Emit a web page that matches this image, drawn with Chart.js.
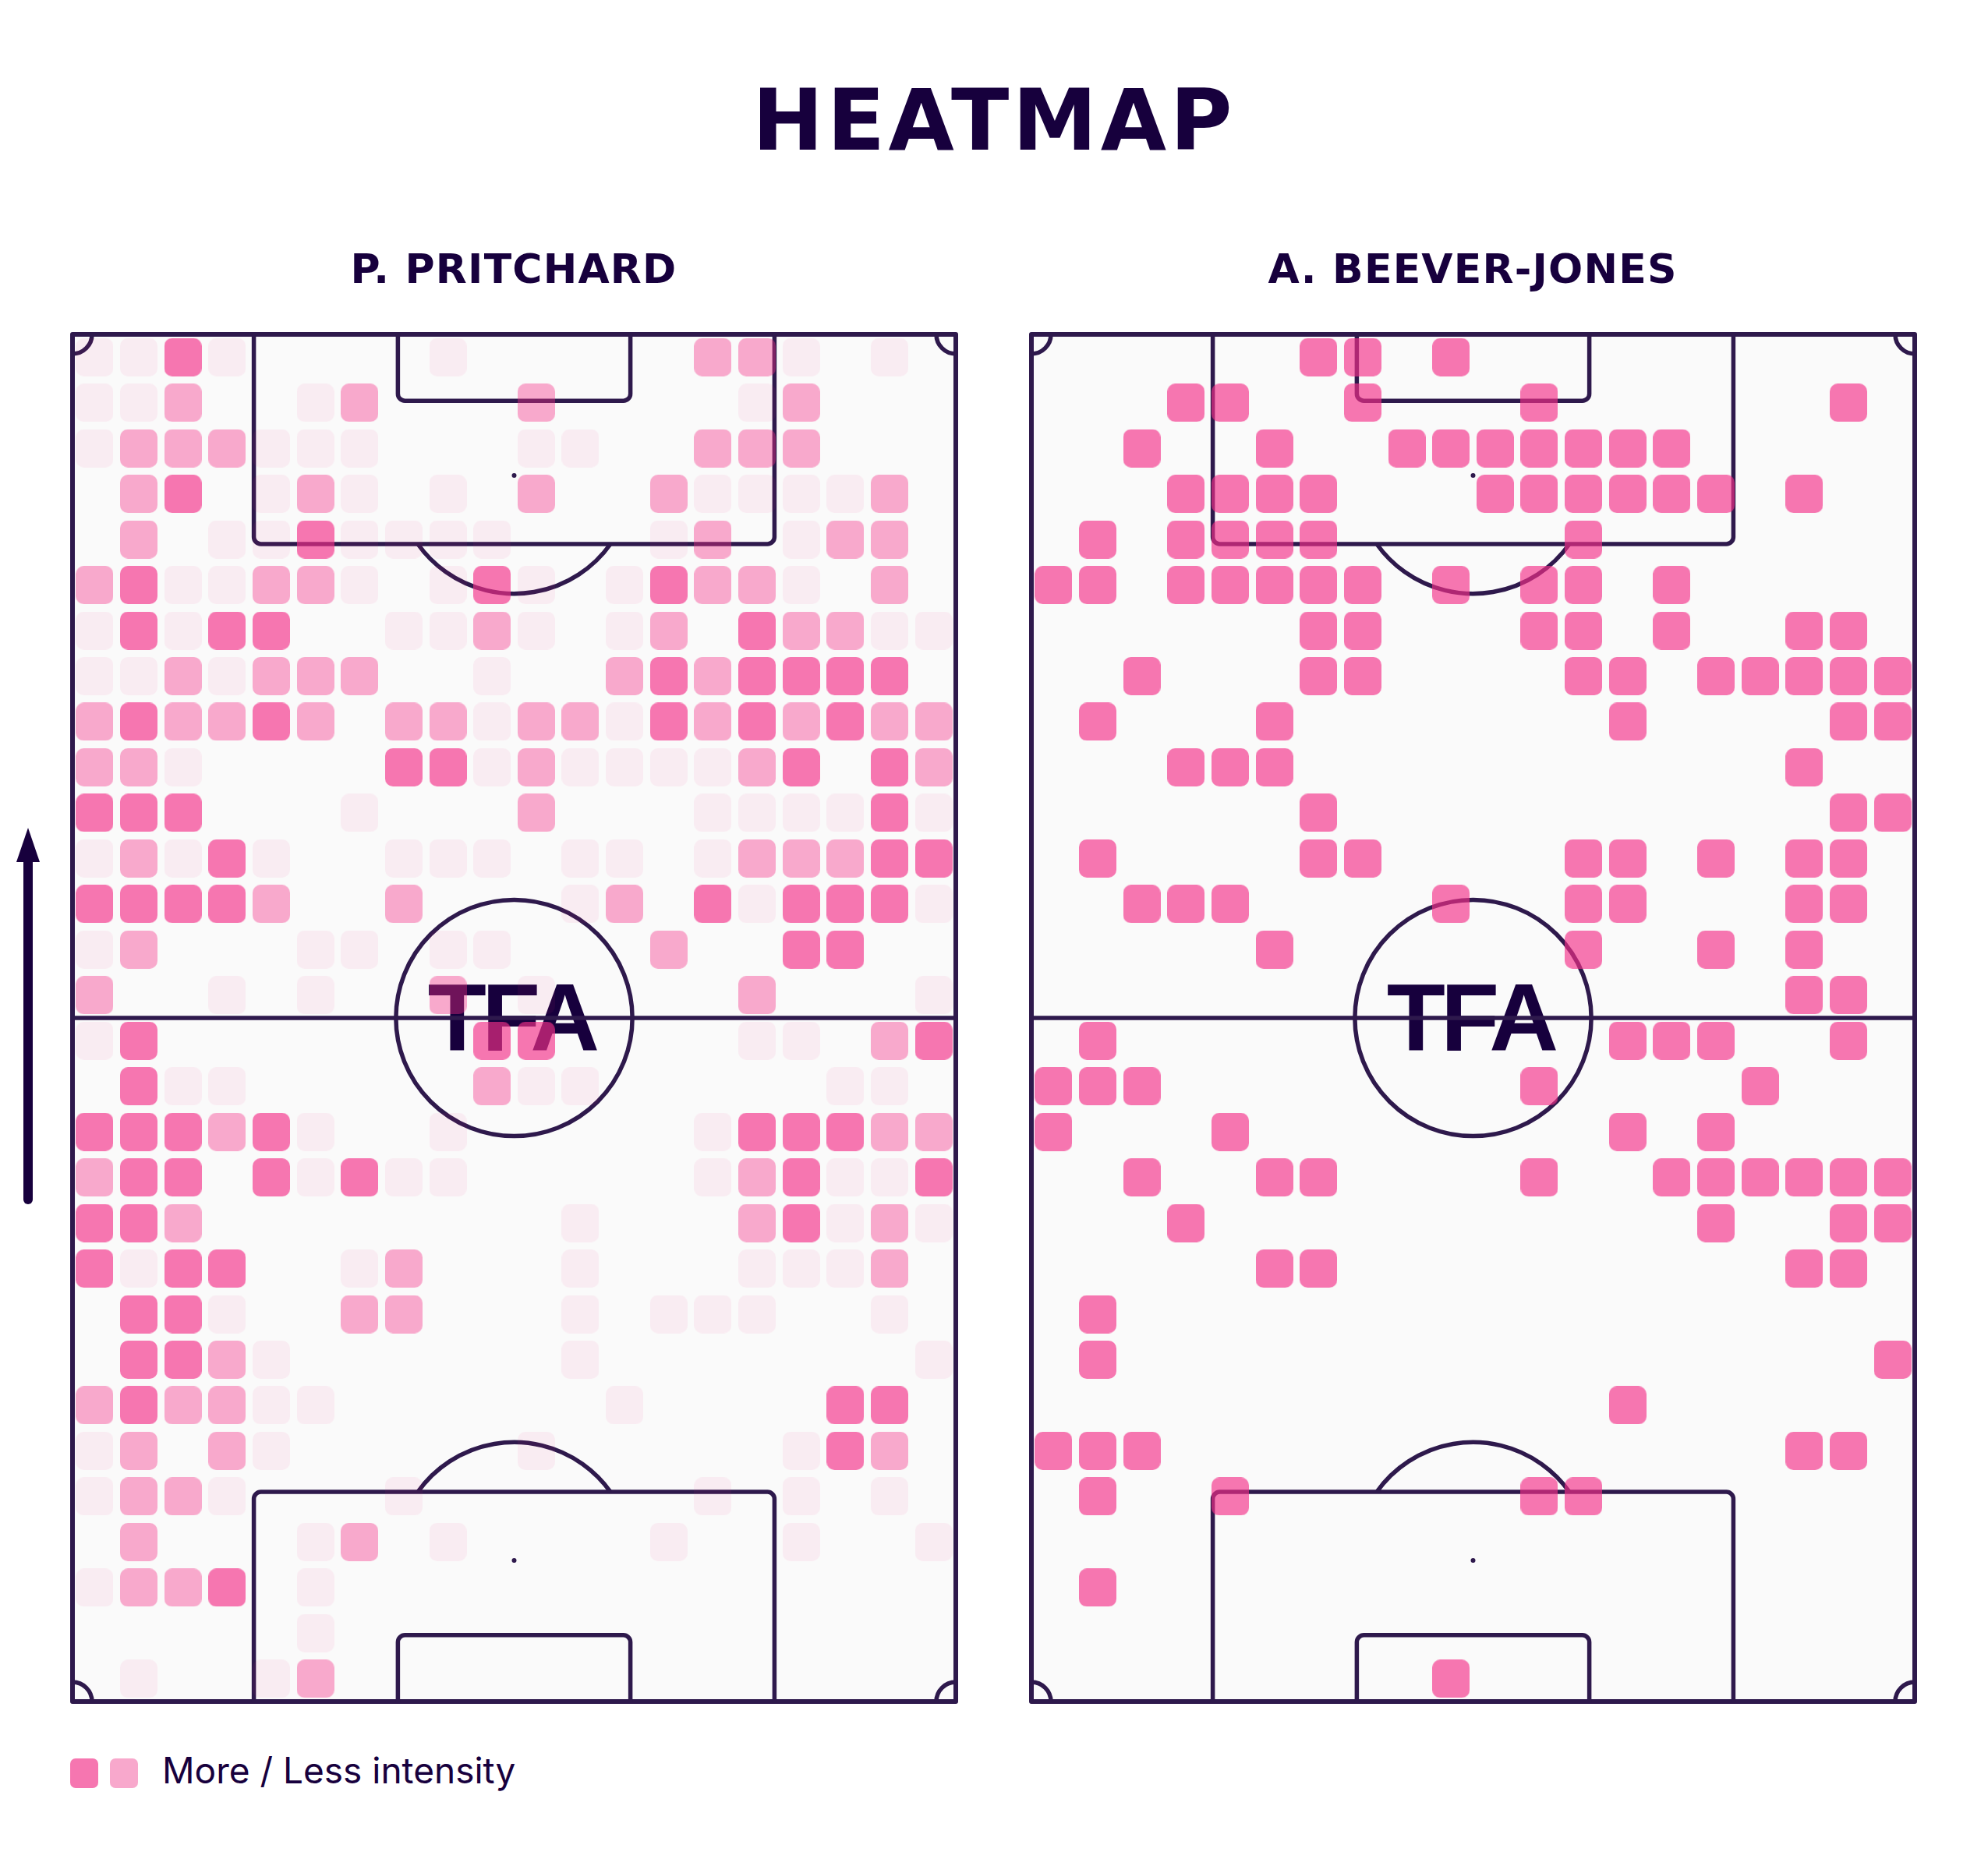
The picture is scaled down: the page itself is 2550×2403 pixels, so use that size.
<!DOCTYPE html>
<html>
<head>
<meta charset="utf-8">
<script src="https://cdn.jsdelivr.net/npm/chart.js@4.4.1/dist/chart.umd.min.js"></script>
<style>
html,body{margin:0;padding:0;background:#ffffff;}
body{width:2550px;height:2403px;position:relative;overflow:hidden;color:#17003d;}
.abs{position:absolute;}
#title{left:0;width:2550px;top:100px;font:bold 109px/109px 'DejaVu Sans',sans-serif;text-align:center;letter-spacing:4.5px;}
.sub{top:319px;width:800px;font:bold 52px/52px 'DejaVu Sans',sans-serif;text-align:center;letter-spacing:1.2px;}
.pitch{position:absolute;top:429px;width:1133px;height:1754px;background:#fafafa;}
.logo{position:absolute;width:400px;text-align:center;top:1244px;font:bold 123px/123px 'Liberation Sans',sans-serif;letter-spacing:-6px;color:#17003d;}
canvas.chart{position:absolute;top:419px;}
.key{position:absolute;top:2256px;width:36px;height:38px;border-radius:7px;}
#keytext{left:208px;top:2248px;font:46px/46px Inter,sans-serif;}
</style>
</head>
<body>
<div id="title" class="abs">HEATMAP</div>
<div class="abs sub" style="left:259px">P. PRITCHARD</div>
<div class="abs sub" style="left:1489px">A. BEEVER-JONES</div>

<div class="pitch" style="left:93px"></div>
<div class="pitch" style="left:1323px"></div>
<div class="logo" style="left:456px">TFA</div>
<div class="logo" style="left:1686px">TFA</div>

<canvas id="left" class="chart" width="1153" height="1774" style="left:83px;width:1153px;height:1774px"></canvas>
<canvas id="right" class="chart" width="1153" height="1774" style="left:1313px;width:1153px;height:1774px"></canvas>

<svg class="abs" style="left:0;top:0" width="80" height="1600">
  <line x1="36" y1="1100" x2="36" y2="1539" stroke="#17003d" stroke-width="12" stroke-linecap="round"/>
  <polygon points="36,1062 21,1106 51,1106" fill="#17003d"/>
</svg>

<div class="key" style="left:90px;background:#f676b0"></div>
<div class="key" style="left:141px;background:#f8a8cc"></div>
<div id="keytext" class="abs">More / Less intensity</div>

<script>
// ---------- DATA ----------
const COLS = 20;          // grid columns across the pitch
const ROWS = 30;          // grid rows along the pitch (attacking upwards)
const PITCH_W = 68;       // metres
const PITCH_L = 105;      // metres

// P. Pritchard: 0 = none, 1 = low, 2 = medium, 3 = high intensity
const pritchardGrid = [
  "11310000100000221010",
  "11200120002000012000",
  "12221110001100222000",
  "02301210102002111120",
  "02011311110001201220",
  "23112210131013221020",
  "13133001121012032211",
  "11212220010023233330",
  "23223202212213232322",
  "22100003312111123032",
  "33300010002000111131",
  "12131001110110122233",
  "33332002000120313331",
  "12000110110002003300",
  "20010100201000020001",
  "13000000033000011023",
  "03110000021100000110",
  "33323100100000133322",
  "23303131100000123113",
  "33200000000100023121",
  "31330012000100011120",
  "03310022000101110010",
  "03321000000100000001",
  "23221100000010000330",
  "12021000001000001320",
  "12210001000000101010",
  "02000120100001001001",
  "12230100000000000000",
  "00000100000000000000",
  "01001200000000000000"
];

// A. Beever-Jones: 3 = high intensity
const beeverJonesGrid = [
  "00000033030000000000",
  "00033003000300000030",
  "00300300333333300000",
  "00033330003333330300",
  "03033330000030000000",
  "33033333030330300000",
  "00000033000330300330",
  "00300033000033033333",
  "03000300000003000033",
  "00033300000000000300",
  "00000030000000000033",
  "03000033000033030330",
  "00333000030033000330",
  "00000300000030030300",
  "00000000000000000330",
  "03000000000003330030",
  "33300000000300003000",
  "30003000000003030000",
  "00300330000300333333",
  "00030000000000030033",
  "00000330000000000330",
  "03000000000000000000",
  "03000000000000000003",
  "00000000000003000000",
  "33300000000000000330",
  "03003000000330000000",
  "00000000000000000000",
  "03000000000000000000",
  "00000000000000000000",
  "00000000030000000000"
];

const levels = [1, 2, 3];
const levelNames = ["Low", "Medium", "High"];

// ---------- STYLE ----------
const LINE_COLOR = '#2e194c';
const CELL_RGB = '244,47,136';
const LEVEL_ALPHA = {1: 0.065, 2: 0.40, 3: 0.65};
const CELL_W = 48, CELL_H = 49, CELL_R = 10;

function cellImage(level) {
  const cv = document.createElement('canvas');
  cv.width = CELL_W; cv.height = CELL_H;
  const g = cv.getContext('2d');
  g.fillStyle = 'rgba(' + CELL_RGB + ',' + LEVEL_ALPHA[level] + ')';
  const r = CELL_R, w = CELL_W, h = CELL_H;
  g.beginPath();
  g.moveTo(r, 0); g.lineTo(w - r, 0); g.arcTo(w, 0, w, r, r);
  g.lineTo(w, h - r); g.arcTo(w, h, w - r, h, r);
  g.lineTo(r, h); g.arcTo(0, h, 0, h - r, r);
  g.lineTo(0, r); g.arcTo(0, 0, r, 0, r);
  g.closePath(); g.fill();
  return cv;
}

function cellsAt(grid, level) {
  const pts = [];
  grid.forEach((row, r) => {
    [...row].forEach((ch, c) => {
      if (Number(ch) === level) {
        pts.push({x: (c + 0.5) * PITCH_W / COLS, y: (r + 0.5) * PITCH_L / ROWS});
      }
    });
  });
  return pts;
}

const pitchMarkings = {
  id: 'pitchMarkings',
  beforeDatasetsDraw(chart) {
    const {ctx, scales: {x, y}} = chart;
    const X = v => x.getPixelForValue(v), Y = v => y.getPixelForValue(v);
    const m = X(1) - X(0);
    ctx.save();
    ctx.strokeStyle = LINE_COLOR;
    ctx.fillStyle = LINE_COLOR;
    ctx.lineJoin = 'round';
    ctx.lineWidth = 6;
    ctx.strokeRect(X(0), Y(0), X(PITCH_W) - X(0), Y(PITCH_L) - Y(0));
    ctx.lineWidth = 5.5;
    // halfway line + centre circle
    ctx.beginPath(); ctx.moveTo(X(0), Y(PITCH_L / 2)); ctx.lineTo(X(PITCH_W), Y(PITCH_L / 2)); ctx.stroke();
    ctx.beginPath(); ctx.arc(X(PITCH_W / 2), Y(PITCH_L / 2), 9.1 * m, 0, Math.PI * 2); ctx.stroke();
    const box = (x0, x1, yGoal, yEdge) => {
      ctx.beginPath();
      ctx.moveTo(X(x0), Y(yGoal));
      ctx.arcTo(X(x0), Y(yEdge), X(x1), Y(yEdge), 9);
      ctx.arcTo(X(x1), Y(yEdge), X(x1), Y(yGoal), 9);
      ctx.lineTo(X(x1), Y(yGoal));
      ctx.stroke();
    };
    const cx = PITCH_W / 2;
    const penD = 16.1, sixD = 5.1, spotD = 10.84, arcR = 9.1;
    const th = Math.asin((penD - spotD) / arcR);
    // top end
    box(13.96, 54.04, 0, penD);
    box(25.05, 42.95, 0, sixD);
    ctx.beginPath(); ctx.arc(X(cx), Y(spotD), arcR * m, th, Math.PI - th); ctx.stroke();
    ctx.beginPath(); ctx.arc(X(cx), Y(spotD), 3, 0, Math.PI * 2); ctx.fill();
    // bottom end
    box(13.96, 54.04, PITCH_L, PITCH_L - penD);
    box(25.05, 42.95, PITCH_L, PITCH_L - sixD);
    ctx.beginPath(); ctx.arc(X(cx), Y(PITCH_L - spotD), arcR * m, Math.PI + th, Math.PI * 2 - th); ctx.stroke();
    ctx.beginPath(); ctx.arc(X(cx), Y(PITCH_L - spotD), 3, 0, Math.PI * 2); ctx.fill();
    // corner arcs
    const cr = 1.5 * m;
    ctx.beginPath(); ctx.arc(X(0), Y(0), cr, 0, Math.PI / 2); ctx.stroke();
    ctx.beginPath(); ctx.arc(X(PITCH_W), Y(0), cr, Math.PI / 2, Math.PI); ctx.stroke();
    ctx.beginPath(); ctx.arc(X(0), Y(PITCH_L), cr, Math.PI * 1.5, Math.PI * 2); ctx.stroke();
    ctx.beginPath(); ctx.arc(X(PITCH_W), Y(PITCH_L), cr, Math.PI, Math.PI * 1.5); ctx.stroke();
    ctx.restore();
  }
};

function makeChart(id, grid, usedLevels) {
  const datasets = usedLevels.map(lv => ({
    label: levelNames[lv - 1],
    data: cellsAt(grid, lv),
    pointStyle: cellImage(lv),
    pointRadius: 24,
    pointHoverRadius: 24,
    showLine: false,
    clip: false
  }));
  return new Chart(document.getElementById(id), {
    type: 'scatter',
    data: {datasets},
    options: {
      responsive: false,
      maintainAspectRatio: false,
      devicePixelRatio: 1,
      animation: false,
      events: [],
      layout: {padding: 10, autoPadding: false},
      scales: {
        x: {type: 'linear', min: 0, max: PITCH_W, display: false},
        y: {type: 'linear', min: 0, max: PITCH_L, reverse: true, display: false}
      },
      plugins: {legend: {display: false}, tooltip: {enabled: false}, title: {display: false}}
    },
    plugins: [pitchMarkings]
  });
}

makeChart('left', pritchardGrid, levels);
makeChart('right', beeverJonesGrid, [3]);
</script>
</body>
</html>
